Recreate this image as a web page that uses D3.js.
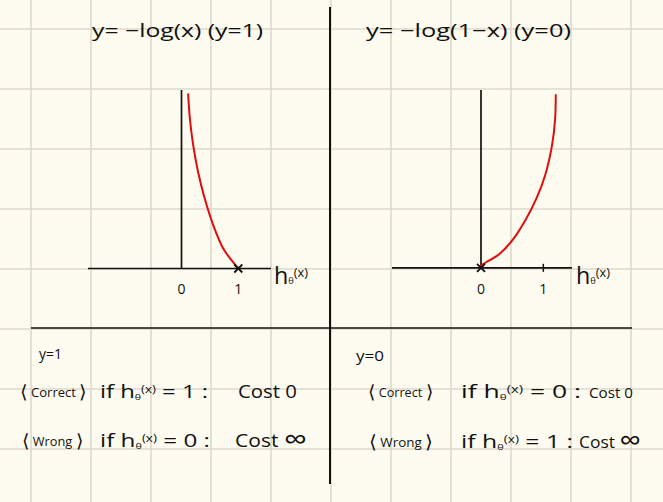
<!DOCTYPE html>
<html><head><meta charset="utf-8">
<script src="https://cdn.jsdelivr.net/npm/d3@7"></script>
<style>html,body{margin:0;padding:0;background:#fefcf0;}svg{display:block;}</style>
</head><body>
<svg id="c" width="663" height="502"></svg>
<script>
// ---- data ----
const leftX    = [0.117, 0.147, 0.205, 0.293, 0.41, 0.56, 0.735, 0.88, 1.0];
const leftCost = [2.10, 1.81, 1.49, 1.16, 0.84, 0.52, 0.24, 0.10, 0.0];
const rightX    = [0.0, 0.09, 0.30, 0.52, 0.73, 0.89, 1.03, 1.14, 1.19, 1.20];
const rightCost = [0.03, 0.07, 0.17, 0.35, 0.60, 0.84, 1.12, 1.48, 1.80, 2.09];
const tickValues = [0, 1];
const tickLabels = ["0", "1"];
const titles = ["y= \u2212log(x)   (y=1)", "y= \u2212log(1\u2212x)   (y=0)"];
const caseLabels = ["y=1", "y=0"];

const svg = d3.select("#c");
const W = 663, H = 502;
const ink = "#111";
svg.append("rect").attr("width", W).attr("height", H).attr("fill", "#fefcf0");

// grid
const g = svg.append("g").attr("stroke", "#dcd9cb").attr("stroke-width", 1.6);
d3.range(31, W, 60).forEach(x => g.append("line").attr("x1", x).attr("x2", x).attr("y1", 0).attr("y2", H));
d3.range(29, H, 60).forEach(y => g.append("line").attr("x1", 0).attr("x2", W).attr("y1", y).attr("y2", y));

// dividers
svg.append("line").attr("x1", 330).attr("x2", 330).attr("y1", 7).attr("y2", 484).attr("stroke", ink).attr("stroke-width", 2);
svg.append("line").attr("x1", 31).attr("x2", 632).attr("y1", 328).attr("y2", 328).attr("stroke", ink).attr("stroke-width", 1.6);

const font = "'Open Sans', 'Noto Sans', sans-serif";
function txt(x, y, str, size, width) {
  const t = svg.append("text").attr("x", x).attr("y", y).attr("font-family", font)
    .attr("font-size", size).attr("font-weight", 400).attr("fill", ink).text(str);
  if (width) t.attr("textLength", width).attr("lengthAdjust", "spacingAndGlyphs");
  return t;
}
function hTheta(x, y, size, width) {
  const t = svg.append("text").attr("x", x).attr("y", y).attr("font-family", font)
    .attr("font-size", size).attr("font-weight", 400).attr("fill", ink);
  t.append("tspan").text("h");
  t.append("tspan").attr("font-size", size * 0.4).attr("dy", size * 0.02).text("\u03B8");
  t.append("tspan").attr("font-size", size * 0.55).attr("dy", -size * 0.3).text("(x)");
  if (width) t.attr("textLength", width).attr("lengthAdjust", "spacingAndGlyphs");
  return t;
}

// ---- panels ----
const panels = [
  {x0: 181.5, x1: 238.3, base: 268.5, axL: 88, axR: 271, xs: leftX, ys: leftCost, cross: 1, tick: false,
   title: titles[0], tx: 92, tw: 171, lx: 274},
  {x0: 481, x1: 543.3, base: 267.8, axL: 392, axR: 572, xs: rightX, ys: rightCost, cross: 0, tick: true,
   title: titles[1], tx: 366, tw: 205, lx: 576}
];

panels.forEach((p, i) => {
  const x = d3.scaleLinear().domain([0, 1]).range([p.x0, p.x1]);
  const y = d3.scaleLinear().domain([0, 2.15]).range([p.base, 90]);
  svg.append("line").attr("x1", p.axL).attr("x2", p.axR).attr("y1", y(0)).attr("y2", y(0))
    .attr("stroke", ink).attr("stroke-width", 1.7);
  svg.append("line").attr("x1", x(0)).attr("x2", x(0)).attr("y1", y(0)).attr("y2", y(2.15))
    .attr("stroke", ink).attr("stroke-width", 1.7);
  if (p.tick) {
    svg.append("line").attr("x1", x(1)).attr("x2", x(1)).attr("y1", y(0) - 4).attr("y2", y(0) + 4)
      .attr("stroke", ink).attr("stroke-width", 1.5);
  }
  const pts = p.xs.map((v, k) => [v, p.ys[k]]);
  svg.append("path").datum(pts)
    .attr("d", d3.line().x(d => x(d[0])).y(d => y(d[1])).curve(d3.curveCatmullRom.alpha(0.5)))
    .attr("fill", "none").attr("stroke", "#e00d0d").attr("stroke-width", 2).attr("stroke-linecap", "round");
  const cx = x(p.cross), cy = y(0), s = 4;
  svg.append("path").attr("d", `M${cx - s},${cy - s}L${cx + s},${cy + s}M${cx - s},${cy + s}L${cx + s},${cy - s}`)
    .attr("stroke", ink).attr("stroke-width", 1.8).attr("fill", "none");
  tickValues.forEach((v, k) => {
    txt(x(v), 294, tickLabels[k], 14).attr("text-anchor", "middle");
  });
  hTheta(p.lx, 284, 24, 34);
  txt(p.tx, 37, p.title, 18, p.tw);
});

// ---- bottom notes ----
txt(39, 359, caseLabels[0], 14, 23);
txt(356, 361, caseLabels[1], 14, 28);

function row(bx, word, bw, ix, iw, val, cx, cw, cost, by, cs) {
  const b = svg.append("text").attr("x", bx).attr("y", by).attr("font-family", font)
    .attr("font-weight", 400).attr("fill", ink);
  b.append("tspan").attr("font-size", 18).text("\u27E8");
  b.append("tspan").attr("font-size", 12).attr("dy", -1).text(word);
  b.append("tspan").attr("font-size", 18).attr("dy", 1).text("\u27E9");
  b.attr("textLength", bw).attr("lengthAdjust", "spacingAndGlyphs");
  const t = svg.append("text").attr("x", ix).attr("y", by).attr("font-family", font)
    .attr("font-size", 18).attr("font-weight", 400).attr("fill", ink);
  t.append("tspan").text("if h");
  t.append("tspan").attr("font-size", 8).attr("dy", 2).text("\u03B8");
  t.append("tspan").attr("font-size", 10).attr("dy", -7).text("(x)");
  t.append("tspan").attr("dy", 5).text(" = " + val + " :");
  t.attr("textLength", iw).attr("lengthAdjust", "spacingAndGlyphs");
  const c = svg.append("text").attr("x", cx).attr("y", by).attr("font-family", font)
    .attr("font-size", cs).attr("font-weight", 400).attr("fill", ink);
  c.append("tspan").text(cost[0]);
  if (cost[1] === "\u221E") c.append("tspan").attr("font-size", 28).attr("dy", 2).text(cost[1]);
  else c.append("tspan").text(cost[1]);
  c.attr("textLength", cw).attr("lengthAdjust", "spacingAndGlyphs");
}
row(20, " Correct ", 67, 100, 108, "1", 238, 59, ["Cost ", "0"], 398, 18);
row(22, " Wrong ", 61, 100, 110, "0", 235, 72, ["Cost ", "\u221E"], 447, 18);
row(368, " Correct ", 65, 461, 120, "0", 589, 44, ["Cost ", "0"], 398, 15);
row(369, " Wrong ", 64, 461, 112, "1", 579, 62, ["Cost ", "\u221E"], 448, 16);
</script>
</body></html>
